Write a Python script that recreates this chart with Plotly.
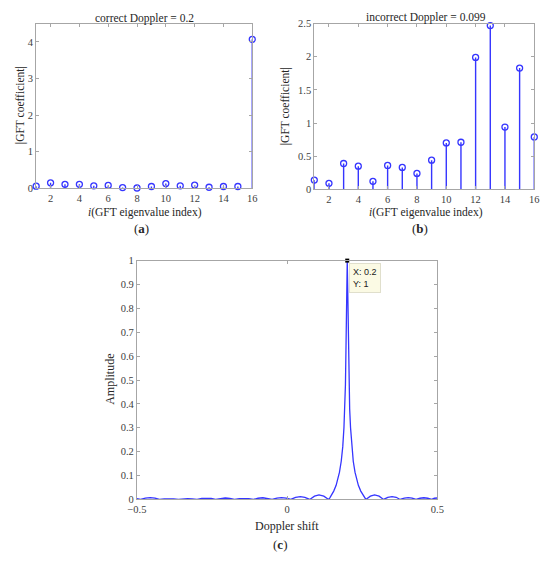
import plotly.graph_objects as go

# panel (a): correct Doppler
idx = list(range(1, 17))
coef_correct = [0.06, 0.15, 0.11, 0.11, 0.07, 0.08, 0.02, 0.01,
                0.05, 0.13, 0.07, 0.09, 0.03, 0.05, 0.05, 4.07]
# panel (b): incorrect Doppler
coef_wrong = [0.14, 0.09, 0.39, 0.35, 0.12, 0.36, 0.33, 0.24,
              0.44, 0.70, 0.71, 1.99, 2.47, 0.94, 1.83, 0.79]

# panel (c): amplitude vs Doppler shift
dop = [-0.500, -0.488, -0.472, -0.456, -0.440, -0.425, -0.409, -0.394, -0.378, -0.362,
       -0.347, -0.331, -0.316, -0.300, -0.284, -0.269, -0.253, -0.238, -0.222, -0.206,
       -0.191, -0.175, -0.159, -0.144, -0.128, -0.112, -0.097, -0.081, -0.066, -0.050,
       -0.034, -0.019, -0.003, 0.012, 0.028, 0.044, 0.059, 0.075, 0.091, 0.106,
       0.122, 0.138, 0.142, 0.148, 0.155, 0.163, 0.168, 0.174, 0.180, 0.185,
       0.189, 0.192, 0.194, 0.196, 0.198, 0.200, 0.202, 0.204, 0.206, 0.208,
       0.211, 0.215, 0.220, 0.226, 0.232, 0.237, 0.245, 0.252, 0.258, 0.262,
       0.277, 0.291, 0.306, 0.321, 0.335, 0.349, 0.363, 0.376, 0.390, 0.403,
       0.416, 0.429, 0.442, 0.455, 0.468, 0.481, 0.490, 0.500]
amp = [0.003, 0.000, 0.006, 0.008, 0.006, 0.000, 0.002, 0.003, 0.002, 0.000,
       0.002, 0.003, 0.002, 0.000, 0.004, 0.005, 0.004, 0.000, 0.004, 0.006,
       0.004, 0.000, 0.003, 0.004, 0.003, 0.000, 0.005, 0.007, 0.005, 0.000,
       0.006, 0.008, 0.006, 0.000, 0.009, 0.012, 0.009, 0.000, 0.014, 0.019,
       0.014, 0.000, 0.007, 0.018, 0.035, 0.059, 0.080, 0.113, 0.160, 0.220,
       0.300, 0.380, 0.480, 0.650, 0.850, 1.000, 0.850, 0.650, 0.480, 0.380,
       0.300, 0.220, 0.160, 0.113, 0.080, 0.059, 0.035, 0.018, 0.007, 0.000,
       0.014, 0.019, 0.014, 0.000, 0.009, 0.012, 0.009, 0.000, 0.006, 0.008,
       0.006, 0.000, 0.005, 0.007, 0.005, 0.000, 0.005, 0.006]

tip_x = [0.2]
tip_y = [1]

W, H = 550, 563
BLUE = '#3535ff'
AXC = '#a6a6a6'
SERIF = 'Liberation Serif'


def px(x):
    return x / W


def py(y):
    return 1 - y / H


def add_stem(fig, x, y, xa, ya):
    # vertical stems from 0, broken with None
    sx, sy = [], []
    for xi, yi in zip(x, y):
        sx += [xi, xi, None]
        sy += [0, yi, None]
    fig.add_trace(go.Scatter(x=sx, y=sy, mode='lines', xaxis=xa, yaxis=ya,
                             line=dict(color=BLUE, width=1.4), showlegend=False,
                             hoverinfo='skip', cliponaxis=False))
    fig.add_trace(go.Scatter(x=x, y=y, mode='markers', xaxis=xa, yaxis=ya, cliponaxis=False,
                             marker=dict(symbol='circle-open', size=6, color=BLUE,
                                         line=dict(width=1.3, color=BLUE)),
                             showlegend=False))


fig = go.Figure()
add_stem(fig, idx, coef_correct, 'x', 'y')
add_stem(fig, idx, coef_wrong, 'x2', 'y2')
fig.add_trace(go.Scatter(x=dop, y=amp, mode='lines', xaxis='x3', yaxis='y3',
                         line=dict(color=BLUE, width=1.3), showlegend=False))
fig.add_trace(go.Scatter(x=tip_x, y=tip_y, mode='markers', xaxis='x3', yaxis='y3',
                         cliponaxis=False, marker=dict(symbol='square', size=4, color='black'),
                         showlegend=False))

ax = dict(showline=True, linecolor=AXC, linewidth=1, mirror='allticks', ticks='inside',
          ticklen=3, tickcolor=AXC, showgrid=False, zeroline=False,
          tickfont=dict(family=SERIF, size=10.5, color='#404040'))

fig.update_layout(
    width=W, height=H,
    margin=dict(l=0, r=0, t=0, b=0),
    paper_bgcolor='white', plot_bgcolor='white',
    font=dict(family=SERIF, color='#262626'),
    xaxis=dict(ax, domain=[px(27), px(250)], range=[1, 16], tickvals=list(range(2, 17, 2)), anchor='y'),
    yaxis=dict(ax, domain=[py(187), py(19)], range=[0, 4.5], tickvals=[0, 1, 2, 3, 4], anchor='x'),
    xaxis2=dict(ax, domain=[px(314), px(541)], range=[1, 16], tickvals=list(range(2, 17, 2)), anchor='y2'),
    yaxis2=dict(ax, domain=[py(188), py(19)], range=[0, 2.5],
                tickvals=[0, 0.5, 1, 1.5, 2, 2.5], ticktext=['0', '0.5', '1', '1.5', '2', '2.5'], anchor='x2'),
    xaxis3=dict(ax, domain=[px(131), px(441)], range=[-0.5, 0.5],
                tickvals=[-0.5, 0, 0.5], ticktext=['\u22120.5', '0', '0.5'], anchor='y3'),
    yaxis3=dict(ax, domain=[py(504.3), py(260.7)], range=[0, 1],
                tickvals=[i / 10 for i in range(11)],
                ticktext=['0'] + ['0.%d' % i for i in range(1, 10)] + ['1'], anchor='x3'),
)

notes = [
    # titles
    ('correct Doppler = 0.2', 138.7, 13.5, 11.5, 0),
    ('incorrect Doppler = 0.099', 429, 12.5, 11.5, 0),
    # x titles
    ('<i>i</i>(GFT eigenvalue index)', 139.5, 211.5, 11.5, 0),
    ('<i>i</i>(GFT eigenvalue index)', 429, 212, 11.5, 0),
    ('Doppler shift', 286, 531.5, 12, 0),
    # y titles
    ('|GFT coefficient|', 11, 102.5, 11.5, -90),
    ('|GFT coefficient|', 285, 103, 11.5, -90),
    ('Amplitude', 103, 381.5, 12, -90),
    # panel labels
    ('(<b>a</b>)', 136, 228, 13, 0),
    ('(<b>b</b>)', 423, 228, 13, 0),
    ('(<b>c</b>)', 279, 550, 13, 0),
]
for text, x, y, size, ang in notes:
    fig.add_annotation(text=text, x=px(x), y=py(y), xref='paper', yref='paper',
                       showarrow=False, textangle=ang, xanchor='center', yanchor='middle',
                       font=dict(family=SERIF, size=size, color='#262626'))

# data tip box
fig.add_annotation(text='X: 0.2<br>Y: 1', x=0.207, y=0.988, xref='x3', yref='y3',
                   xanchor='left', yanchor='top', align='left', showarrow=False,
                   bgcolor='#fbfae4', bordercolor='#e0dfcc', borderwidth=1, borderpad=3,
                   font=dict(family='Liberation Sans', size=9, color='#202020'))

# drop the default 8px body margin so the figure sits at the page corner
fig.write_html("out.html", config={'displayModeBar': False},
               post_script="document.body.style.margin='0px';")
